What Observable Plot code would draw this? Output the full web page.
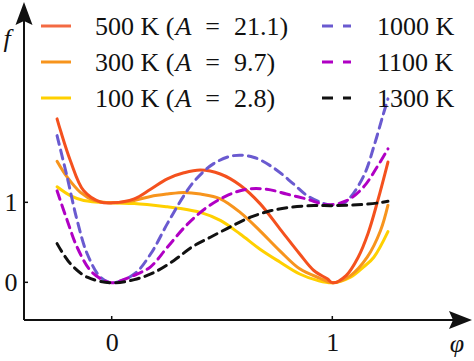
<!DOCTYPE html>
<html><head><meta charset="utf-8">
<script src="https://cdn.jsdelivr.net/npm/d3@7"></script>
<script src="https://cdn.jsdelivr.net/npm/@observablehq/plot@0.6"></script>
<style>body{margin:0;background:#fff}</style>
</head><body><div id="chart"></div>
<script>
// ---- data ----
const phi500 = [-0.25,-0.234,-0.19,-0.129,-0.053,0,0.1,0.174,0.25,0.325,0.40,0.49,0.58,0.67,0.76,0.85,0.914,0.975,1.0,1.06,1.115,1.16,1.204,1.25];
const f500   = [2.05,1.90,1.53,1.15,1.01,1.0,1.05,1.17,1.30,1.375,1.41,1.36,1.22,0.99,0.675,0.36,0.154,0.05,0.0,0.09,0.32,0.62,1.03,1.51];
const phi300 = [-0.25,-0.204,-0.144,-0.083,0,0.1,0.174,0.25,0.325,0.40,0.49,0.58,0.67,0.76,0.85,0.94,1.0,1.08,1.156,1.216,1.25];
const f300   = [1.52,1.32,1.13,1.03,1.0,1.03,1.08,1.11,1.13,1.11,1.05,0.88,0.65,0.40,0.175,0.06,0.0,0.09,0.32,0.65,0.97];
const phi100 = [-0.25,-0.19,-0.129,0,0.1,0.25,0.31,0.40,0.49,0.58,0.67,0.76,0.85,0.93,1.0,1.08,1.14,1.186,1.25];
const f100   = [1.20,1.09,1.03,1.0,0.99,0.95,0.93,0.88,0.78,0.61,0.42,0.26,0.11,0.03,0.0,0.07,0.2,0.32,0.64];
const phi1000 = [-0.25,-0.204,-0.159,-0.113,-0.053,0,0.1,0.174,0.25,0.325,0.375,0.46,0.55,0.64,0.73,0.82,0.884,0.96,1.0,1.04,1.08,1.144,1.19,1.227,1.25];
const f1000   = [1.84,1.32,0.78,0.36,0.07,0.0,0.11,0.36,0.74,1.09,1.28,1.49,1.59,1.57,1.44,1.24,1.09,0.99,0.97,0.98,1.07,1.36,1.74,2.09,2.3];
const phi1100 = [-0.25,-0.204,-0.159,-0.098,-0.038,0,0.113,0.174,0.25,0.34,0.43,0.52,0.61,0.70,0.79,0.884,0.975,1.065,1.14,1.2,1.25];
const f1100   = [1.15,0.78,0.445,0.15,0.03,0.0,0.11,0.2,0.445,0.73,0.945,1.09,1.17,1.17,1.11,1.045,0.975,1.03,1.2,1.445,1.675];
const phi1300 = [-0.25,-0.19,-0.113,0,0.1,0.19,0.28,0.36,0.445,0.536,0.627,0.717,0.81,0.914,1.0,1.11,1.21,1.25];
const f1300   = [0.49,0.24,0.07,0.0,0.04,0.13,0.28,0.445,0.57,0.70,0.82,0.90,0.945,0.965,0.965,0.975,1.0,1.02];

const seriesNames = ["100 K","300 K","500 K","1000 K","1100 K","1300 K"];
const seriesColors = ["#ffd000","#f7941d","#f4511e","#6a5ad0","#b000c4","#111111"];
const seriesDashed = [false,false,false,true,true,true];
const seriesPhi = [phi100,phi300,phi500,phi1000,phi1100,phi1300];
const seriesF = [f100,f300,f500,f1000,f1100,f1300];

const legendLeft = [["500 K (","A","=","21.1)"],["300 K (","A","=","9.7)"],["100 K (","A","=","2.8)"]];
const legendLeftColors = ["#f36a43","#f7941d","#ffd000"];
const legendRight = ["1000 K","1100 K","1300 K"];
const legendRightColors = ["#6a5ad0","#b000c4","#111111"];

const xTicks = [0,1];
const yTicks = [0,1];

// ---- chart ----
const W = 474, H = 361;
const font = "'Liberation Serif', 'DejaVu Serif', serif";

const marks = [];
seriesNames.forEach((name,i)=>{
  const rows = seriesPhi[i].map((p,j)=>({phi:p, f:seriesF[i][j], series:name}));
  marks.push(Plot.line(rows,{x:"phi",y:"f",stroke:seriesColors[i],strokeWidth:3,
    curve:"catmull-rom", strokeDasharray: seriesDashed[i] ? "9,6" : null}));
});
marks.push(Plot.axisX({ticks:xTicks, tickSize:0, tickPadding:12, label:null, tickFormat:d=>String(d)}));
marks.push(Plot.axisY({ticks:yTicks, tickSize:0, tickPadding:7, label:null, tickFormat:d=>String(d)}));

const plot = Plot.plot({
  width:W, height:H,
  marginLeft:24, marginRight:0, marginTop:0, marginBottom:41,
  x:{domain:[-0.3976,1.6423], axis:null},
  y:{domain:[-0.471,3.529], axis:null},
  style:{fontFamily:font, fontSize:"26px", background:"#fff", color:"#111"},
  marks
});
document.getElementById("chart").appendChild(plot);

const sx = plot.scale("x"), sy = plot.scale("y");
const svg = d3.select(plot);
const x0 = sx.apply(sx.domain[0]), y0 = sy.apply(sy.domain[0]);
const g = svg.append("g").style("font-family",font).style("font-size","26px").attr("text-anchor","start");
// axes lines
g.append("line").attr("x1",x0).attr("x2",455).attr("y1",y0).attr("y2",y0).attr("stroke","#111").attr("stroke-width",2);
g.append("line").attr("x1",x0).attr("x2",x0).attr("y1",y0).attr("y2",20).attr("stroke","#111").attr("stroke-width",2);
// arrowheads
g.append("path").attr("d",`M472,${y0} L449,${y0-9} L453,${y0} L449,${y0+9} Z`).attr("fill","#111");
g.append("path").attr("d",`M${x0},2 L${x0-8.5},25 L${x0},21 L${x0+8.5},25 Z`).attr("fill","#111");
// ticks
xTicks.forEach(t=>g.append("line").attr("x1",sx.apply(t)).attr("x2",sx.apply(t)).attr("y1",y0).attr("y2",y0-4).attr("stroke","#111").attr("stroke-width",1.5));
yTicks.forEach(t=>g.append("line").attr("x1",x0).attr("x2",x0+4).attr("y1",sy.apply(t)).attr("y2",sy.apply(t)).attr("stroke","#111").attr("stroke-width",1.5));
// axis labels
g.append("text").attr("x",7).attr("y",47).style("text-anchor","middle").style("font-style","italic").text("f");
g.append("text").attr("x",457).attr("y",352).style("text-anchor","middle").style("font-style","italic").text("φ");

// legend
const rowsY = [26,62,98];
legendLeft.forEach((parts,i)=>{
  g.append("line").attr("x1",41).attr("x2",71).attr("y1",rowsY[i]).attr("y2",rowsY[i]).attr("stroke",legendLeftColors[i]).attr("stroke-width",3);
  const t = g.append("text").attr("x",95).attr("y",rowsY[i]+9).style("text-anchor","start").style("white-space","pre");
  t.append("tspan").text(parts[0]);
  t.append("tspan").attr("dx",1).style("font-style","italic").text(parts[1]);
  t.append("tspan").attr("dx",14).text(parts[2]);
  t.append("tspan").attr("dx",14).text(parts[3]);
});
legendRight.forEach((name,i)=>{
  g.append("line").attr("x1",322).attr("x2",351).attr("y1",rowsY[i]).attr("y2",rowsY[i]).attr("stroke",legendRightColors[i]).attr("stroke-width",3).attr("stroke-dasharray","11,10");
  g.append("text").attr("x",377).attr("y",rowsY[i]+9).style("text-anchor","start").text(name);
});
</script>
</body></html>
